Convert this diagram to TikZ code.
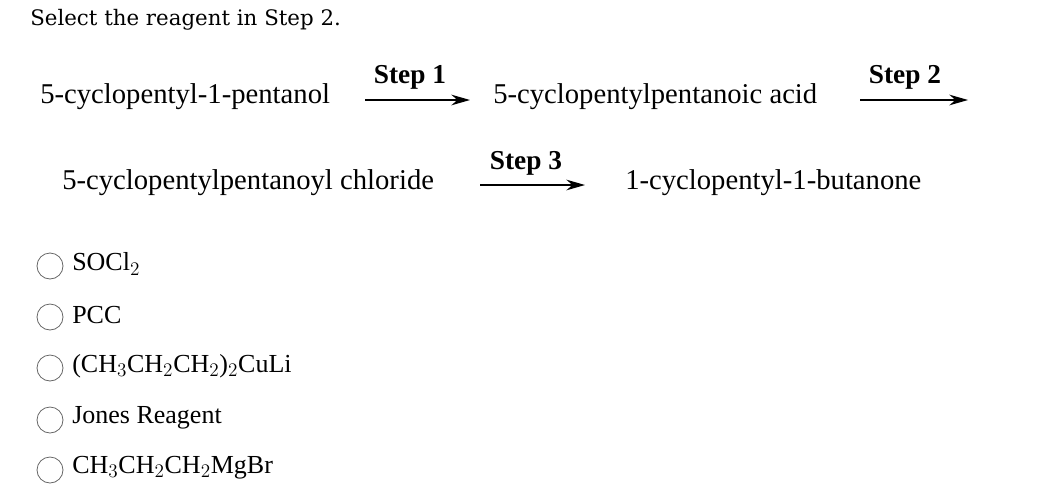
\documentclass[tikz,border=0pt]{standalone}
\usepackage{fontspec}
\setmainfont{Liberation Serif}
\newfontfamily\titlefont{DejaVu Serif}
\usetikzlibrary{arrows.meta}
\begin{document}
\begin{tikzpicture}[x=0.75pt,y=-0.75pt,
  chem/.style={anchor=west,inner sep=0,font=\fontsize{21.5}{24}\selectfont},
  steplbl/.style={inner sep=0,font=\fontsize{20.5}{24}\selectfont\bfseries},
  rxn/.style={-{Stealth[length=14pt,width=8pt]},line width=1.1pt},
  opt/.style={anchor=west,inner sep=0,font=\fontsize{19.5}{22}\selectfont},
  radio/.style={draw=black!60,circle,minimum size=19.5pt,inner sep=0,line width=0.6pt}]
\useasboundingbox (0,0) rectangle (1062,493);
\node[anchor=west,inner sep=0,font=\titlefont\fontsize{16}{19}\selectfont] (title) at (30,20) {Select the reagent in Step 2.};
\node[chem] (a) at (40,97) {5-cyclopentyl-1-pentanol};
\coordinate (a1s) at (365,100); \coordinate (a1e) at (470,100);
\draw[rxn] (a1s) -- (a1e);
\node[steplbl] (s1) at (410,77) {Step 1};
\node[chem] (b) at (493,97) {5-cyclopentylpentanoic acid};
\coordinate (a2s) at (860,100); \coordinate (a2e) at (968,100);
\draw[rxn] (a2s) -- (a2e);
\node[steplbl] (s2) at (905,77) {Step 2};
\node[chem] (c) at (62,183) {5-cyclopentylpentanoyl chloride};
\coordinate (a3s) at (480,185); \coordinate (a3e) at (585,185);
\draw[rxn] (a3s) -- (a3e);
\node[steplbl] (s3) at (526,163) {Step 3};
\node[chem] (d) at (625,183) {1-cyclopentyl-1-butanone};
\foreach \y/\t [count=\i] in {266/{SOCl$_2$},317/PCC,368/{(CH$_3$CH$_2$CH$_2$)$_2$CuLi},420/Jones Reagent,470/{CH$_3$CH$_2$CH$_2$MgBr}}{
  \node[radio] (r\i) at (50,\y) {};
  \node[opt] (o\i) at (72,\y-2) {\t};
}
\end{tikzpicture}
\end{document}
